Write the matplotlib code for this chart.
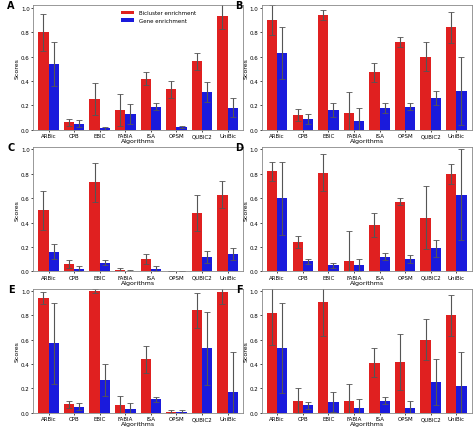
import numpy as np
import matplotlib
matplotlib.use("Agg")
import matplotlib.pyplot as plt

algorithms = ["ARBic", "CPB", "EBIC", "FABIA", "ISA", "OPSM", "QUBIC2", "UniBic"]
panels = ["A", "B", "C", "D", "E", "F"]

bic_mean = {
    "A": [0.80, 0.06, 0.25, 0.16, 0.42, 0.33, 0.56, 0.93],
    "B": [0.90, 0.12, 0.94, 0.14, 0.47, 0.72, 0.60, 0.84],
    "C": [0.50, 0.06, 0.73, 0.01, 0.10, 0.00, 0.48, 0.63],
    "D": [0.82, 0.24, 0.81, 0.08, 0.38, 0.57, 0.44, 0.80],
    "E": [0.94, 0.07, 1.00, 0.06, 0.44, 0.01, 0.84, 0.99],
    "F": [0.82, 0.10, 0.91, 0.10, 0.41, 0.42, 0.60, 0.80],
}
bic_err = {
    "A": [0.15, 0.03, 0.13, 0.13, 0.05, 0.07, 0.07, 0.10],
    "B": [0.12, 0.05, 0.04, 0.17, 0.08, 0.04, 0.12, 0.13],
    "C": [0.16, 0.03, 0.16, 0.02, 0.04, 0.00, 0.15, 0.11],
    "D": [0.08, 0.05, 0.15, 0.25, 0.10, 0.03, 0.26, 0.08],
    "E": [0.05, 0.03, 0.02, 0.08, 0.11, 0.01, 0.14, 0.10],
    "F": [0.26, 0.10, 0.28, 0.14, 0.12, 0.23, 0.17, 0.17],
}
gene_mean = {
    "A": [0.54, 0.05, 0.01, 0.13, 0.19, 0.02, 0.31, 0.18],
    "B": [0.63, 0.09, 0.16, 0.07, 0.18, 0.19, 0.26, 0.32],
    "C": [0.16, 0.02, 0.07, 0.00, 0.02, 0.00, 0.12, 0.14],
    "D": [0.60, 0.08, 0.05, 0.05, 0.12, 0.10, 0.19, 0.63],
    "E": [0.57, 0.05, 0.27, 0.03, 0.11, 0.01, 0.53, 0.17],
    "F": [0.53, 0.06, 0.09, 0.04, 0.10, 0.04, 0.25, 0.22],
}
gene_err = {
    "A": [0.18, 0.03, 0.01, 0.08, 0.03, 0.01, 0.08, 0.08],
    "B": [0.21, 0.04, 0.06, 0.11, 0.04, 0.03, 0.06, 0.28],
    "C": [0.06, 0.02, 0.02, 0.01, 0.02, 0.00, 0.05, 0.05],
    "D": [0.30, 0.02, 0.02, 0.05, 0.03, 0.03, 0.07, 0.37],
    "E": [0.33, 0.03, 0.13, 0.05, 0.02, 0.01, 0.30, 0.33],
    "F": [0.37, 0.03, 0.08, 0.07, 0.03, 0.06, 0.19, 0.28],
}

fig, axes = plt.subplots(3, 2, figsize=(4.74, 4.31), dpi=100)
x = np.arange(len(algorithms))
w = 0.4
ekw = dict(ecolor="#555555", elinewidth=0.8, capsize=2, capthick=0.6)
for ax, p in zip(axes.flat, panels):
    ax.bar(x - w / 2, bic_mean[p], w, yerr=bic_err[p], color="#e02020",
           label="Bicluster enrichment", error_kw=ekw)
    ax.bar(x + w / 2, gene_mean[p], w, yerr=gene_err[p], color="#1a1adc",
           label="Gene enrichment", error_kw=ekw)
    ax.set_xticks(x)
    ax.set_xticklabels(algorithms, fontsize=4)
    ax.set_yticks(np.arange(0, 1.01, 0.2))
    ax.set_yticklabels([f"{v:.1f}" for v in np.arange(0, 1.01, 0.2)], fontsize=4)
    ax.set_ylim(0, 1.02)
    ax.set_xlim(-0.6, 7.6)
    ax.set_xlabel("Algorithms", fontsize=4.5, labelpad=0)
    ax.set_ylabel("Scores", fontsize=4.5, labelpad=1)
    ax.tick_params(length=1.5, width=0.5, pad=1)
    for s in ax.spines.values():
        s.set_linewidth(0.6)
        s.set_color("#888888")
    ax.text(-0.09, 1.0, p, transform=ax.transAxes, fontsize=7, fontweight="bold",
            va="center", ha="right")
axes[0, 0].legend(fontsize=4, loc="upper right", bbox_to_anchor=(0.8, 1.0),
                  frameon=False, handlelength=2.5)
plt.subplots_adjust(left=0.07, right=0.995, top=0.985, bottom=0.04, hspace=0.14, wspace=0.09)
plt.savefig("out.png")
